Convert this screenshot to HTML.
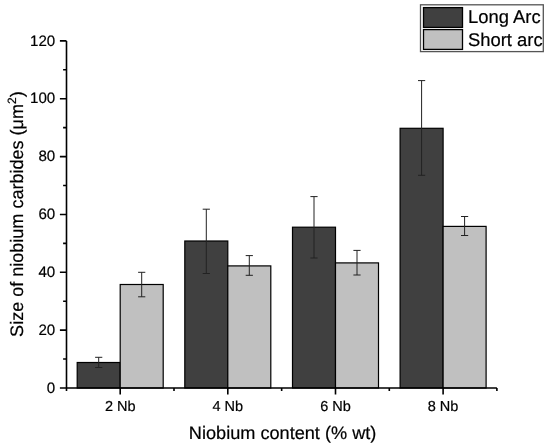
<!DOCTYPE html>
<html><head><meta charset="utf-8">
<style>
html,body{margin:0;padding:0;background:#fff;}
body{width:550px;height:447px;overflow:hidden;}
svg{display:block;}
text{font-family:"Liberation Sans",Arial,sans-serif;fill:#000;text-rendering:geometricPrecision;stroke:#000;stroke-width:0.2px;}
</style></head>
<body>
<svg width="550" height="447" viewBox="0 0 550 447">
<rect x="0" y="0" width="550" height="447" fill="#fff"/>

<g stroke="#000" stroke-width="1.2">
<rect x="77.20" y="362.50" width="43" height="25.50" fill="#404040"/>
<rect x="120.20" y="284.50" width="43" height="103.50" fill="#c0c0c0"/>
<rect x="184.80" y="241.00" width="43" height="147.00" fill="#404040"/>
<rect x="227.80" y="265.90" width="43" height="122.10" fill="#c0c0c0"/>
<rect x="292.50" y="227.20" width="43" height="160.80" fill="#404040"/>
<rect x="335.50" y="262.90" width="43" height="125.10" fill="#c0c0c0"/>
<rect x="400.10" y="128.30" width="43" height="259.70" fill="#404040"/>
<rect x="443.10" y="226.40" width="43" height="161.60" fill="#c0c0c0"/>
</g>
<g stroke="#222" stroke-width="1.0" fill="none">
<path d="M98.70 357.3V367.5M95.10 357.3H102.30M95.10 367.5H102.30"/>
<path d="M141.70 272.3V296.8M138.10 272.3H145.30M138.10 296.8H145.30"/>
<path d="M206.30 209.2V273.5M202.70 209.2H209.90M202.70 273.5H209.90"/>
<path d="M249.30 255.6V275.3M245.70 255.6H252.90M245.70 275.3H252.90"/>
<path d="M314.00 196.6V258.0M310.40 196.6H317.60M310.40 258.0H317.60"/>
<path d="M357.00 250.4V275.0M353.40 250.4H360.60M353.40 275.0H360.60"/>
<path d="M421.60 80.6V175.3M418.00 80.6H425.20M418.00 175.3H425.20"/>
<path d="M464.60 216.5V235.5M461.00 216.5H468.20M461.00 235.5H468.20"/>
</g>
<path d="M66.5 40.9V388.0H496.9M59.9 388.00H66.5M59.9 330.15H66.5M59.9 272.30H66.5M59.9 214.45H66.5M59.9 156.60H66.5M59.9 98.75H66.5M59.9 40.90H66.5M63.1 359.07H66.5M63.1 301.23H66.5M63.1 243.38H66.5M63.1 185.53H66.5M63.1 127.67H66.5M63.1 69.82H66.5M120.2 388.0V394.4M227.8 388.0V394.4M335.5 388.0V394.4M443.1 388.0V394.4M66.5 388.0V391.0M174.0 388.0V391.0M281.65 388.0V391.0M389.3 388.0V391.0M496.9 388.0V391.0" stroke="#000" stroke-width="1.6" fill="none" stroke-linecap="butt"/>
<g font-size="15.1" text-anchor="end">
<text x="55.2" y="392.60">0</text>
<text x="55.2" y="334.75">20</text>
<text x="55.2" y="276.90">40</text>
<text x="55.2" y="219.05">60</text>
<text x="55.2" y="161.20">80</text>
<text x="55.2" y="103.35">100</text>
<text x="55.2" y="45.50">120</text>
</g>
<g font-size="14.5" text-anchor="middle">
<text x="120.20" y="410.8">2 Nb</text>
<text x="227.80" y="410.8">4 Nb</text>
<text x="335.50" y="410.8">6 Nb</text>
<text x="443.10" y="410.8">8 Nb</text>
</g>
<text x="282.6" y="438.7" font-size="18.15" text-anchor="middle">Niobium content (% wt)</text>
<text transform="translate(23.2,336.9) rotate(-90)" font-size="18.05">Size of niobium carbides (μm<tspan font-size="12" dy="-7.5">2</tspan><tspan dy="7.5">)</tspan></text>
<rect x="420.5" y="4.8" width="122.8" height="46.8" fill="#fff" stroke="#555" stroke-width="1.3"/>
<rect x="423.5" y="7.6" width="39" height="19.8" fill="#404040" stroke="#000" stroke-width="1.3"/>
<rect x="423.5" y="29.6" width="39" height="19.8" fill="#c0c0c0" stroke="#000" stroke-width="1.3"/>
<text x="468" y="23.4" font-size="18.4">Long Arc</text>
<text x="468" y="46" font-size="18.4">Short arc</text>
</svg>
</body></html>
